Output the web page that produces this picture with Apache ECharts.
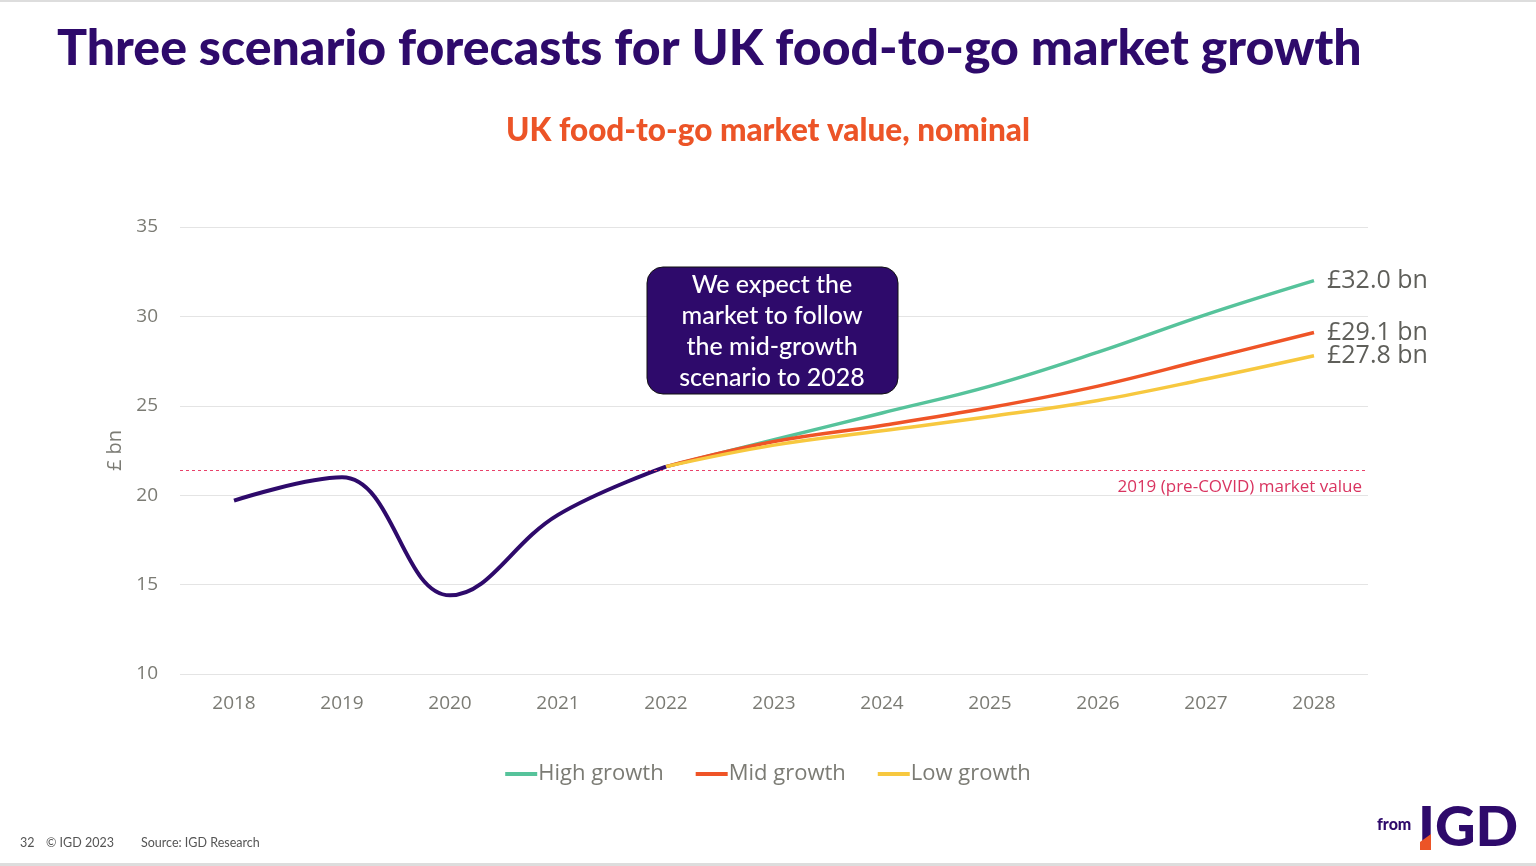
<!DOCTYPE html>
<html>
<head>
<meta charset="utf-8">
<script src="https://cdn.jsdelivr.net/npm/echarts@6/dist/echarts.min.js"></script>
<style>
  html, body { margin: 0; padding: 0; background: #fff; }
  #chart { width: 1536px; height: 866px; }
</style>
</head>
<body>
<div id="chart"></div>
<script>
const years = ['2018', '2019', '2020', '2021', '2022', '2023', '2024', '2025', '2026', '2027', '2028'];
const actual = [19.7, 21.0, 14.4, 18.9, 21.6, null, null, null, null, null, null];
const highGrowth = [null, null, null, null, 21.6, 23.1, 24.6, 26.1, 28.0, 30.1, 32.0];
const midGrowth = [null, null, null, null, 21.6, 23.0, 23.9, 24.9, 26.1, 27.6, 29.1];
const lowGrowth = [null, null, null, null, 21.6, 22.8, 23.6, 24.4, 25.3, 26.5, 27.8];
const preCovid = 21.4;

const grey = '#7b7b74';
const purple = '#2e0a6b';
const font = 'Lato, "Noto Sans", sans-serif';

let chart = echarts.init(document.getElementById('chart'));

// label at the end of each scenario line
const endLabel = {
  show: true,
  distance: 13,
  color: '#5f5f5a',
  fontSize: 25,
  fontFamily: '"Open Sans", sans-serif',
  formatter: p => '£' + p.value.toFixed(1) + ' bn',
};

function scenario(name, data, color) {
  return {
    name: name,
    type: 'line',
    data: data,
    smooth: 0.4,
    symbol: 'none',
    lineStyle: { width: 3.5, color: color },
    itemStyle: { color: color },
    endLabel: endLabel,
    z: 3,
  };
}

const option = {
  animation: false,
  title: [
    {
      text: 'Three scenario forecasts for UK food-to-go market growth',
      left: 52,
      top: 19,
      textStyle: { fontFamily: font, fontSize: 50, fontWeight: 900, color: purple },
    },
    {
      text: 'UK food-to-go market value, nominal',
      left: 'center',
      top: 110,
      textStyle: { fontFamily: font, fontSize: 31.5, fontWeight: 900, color: '#ec5427' },
    },
  ],
  legend: {
    bottom: 76,
    left: 'center',
    data: ['High growth', 'Mid growth', 'Low growth'],
    icon: 'rect',
    itemWidth: 32,
    itemHeight: 4,
    itemGap: 32,
    textStyle: { color: grey, fontSize: 22, fontFamily: '"Open Sans", sans-serif', padding: [0, 0, 0, -4] },
  },
  grid: { left: 180, right: 168, top: 227, bottom: 192 },
  xAxis: {
    type: 'category',
    data: years,
    boundaryGap: true,
    axisLine: { show: false },
    axisTick: { show: false },
    axisLabel: { color: grey, fontSize: 19, margin: 20, fontFamily: '"Open Sans", sans-serif' },
  },
  yAxis: {
    type: 'value',
    min: 10,
    max: 35,
    interval: 5,
    name: '£ bn',
    nameLocation: 'middle',
    nameGap: 48,
    nameTextStyle: { color: grey, fontSize: 20, fontFamily: '"Open Sans", sans-serif' },
    axisLabel: { color: grey, fontSize: 19, margin: 22, fontFamily: '"Open Sans", sans-serif' },
    splitLine: { lineStyle: { color: '#e4e4e4', width: 1 } },
  },
  series: [
    scenario('High growth', highGrowth, '#56c39b'),
    scenario('Mid growth', midGrowth, '#ef5427'),
    scenario('Low growth', lowGrowth, '#f7c83f'),
    {
      name: 'Actual',
      type: 'line',
      data: actual,
      smooth: 0.4,
      symbol: 'none',
      lineStyle: { width: 4, color: purple },
      z: 4,
      markLine: {
        silent: true,
        symbol: 'none',
        lineStyle: { color: '#e8416a', type: [3, 3], width: 1 },
        label: {
          position: 'insideEndBottom',
          formatter: '2019 (pre-COVID) market value',
          color: '#d93460',
          fontSize: 17,
          fontFamily: '"Open Sans", sans-serif',
          distance: [6, 8],
        },
        data: [{ yAxis: preCovid }],
      },
    },
  ],
  graphic: [
    {
      type: 'rect',
      z: 100,
      shape: { x: 647, y: 267, width: 251, height: 127, r: 16 },
      style: { fill: purple, stroke: '#111', lineWidth: 1 },
    },
    {
      type: 'text',
      z: 101,
      x: 772,
      y: 331,
      style: {
        text: 'We expect the\nmarket to follow\nthe mid-growth\nscenario to 2028',
        fill: '#fff',
        fontSize: 25,
        lineHeight: 31,
        fontFamily: font,
        fontWeight: 500,
        align: 'center',
        verticalAlign: 'middle',
      },
    },
    {
      type: 'text',
      left: 20,
      top: 836,
      style: { text: '32', fill: '#555', fontSize: 12.5, fontFamily: font },
    },
    {
      type: 'text',
      left: 46,
      top: 836,
      style: { text: '© IGD 2023', fill: '#555', fontSize: 12.5, fontFamily: font },
    },
    {
      type: 'text',
      left: 141,
      top: 836,
      style: { text: 'Source: IGD Research', fill: '#555', fontSize: 12.5, fontFamily: font },
    },
    {
      type: 'text',
      left: 1377,
      top: 817,
      style: { text: 'from', fill: purple, fontSize: 16, fontWeight: 900, fontFamily: font },
    },
    {
      type: 'text',
      left: 1418,
      top: 800,
      style: { text: 'IGD', fill: purple, fontSize: 56, fontWeight: 900, fontFamily: font },
    },
    {
      type: 'polygon',
      z: 110,
      shape: { points: [[1420, 850], [1420, 842], [1431, 834], [1431, 850]] },
      style: { fill: '#ec5427' },
    },
    {
      type: 'rect',
      shape: { x: 0, y: 0, width: 1536, height: 2 },
      style: { fill: '#dddddd' },
    },
    {
      type: 'rect',
      shape: { x: 0, y: 863, width: 1536, height: 3 },
      style: { fill: '#dddddd' },
    },
  ],
};

chart.setOption(option);
</script>
</body>
</html>
